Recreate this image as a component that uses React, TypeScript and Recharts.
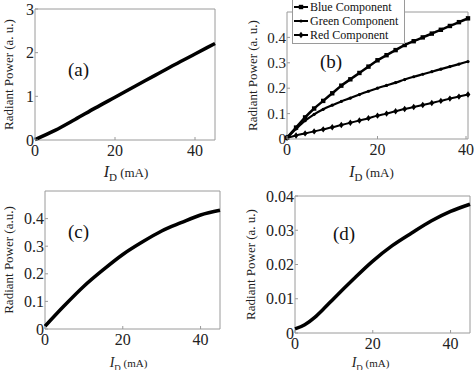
import { LineChart, Line, XAxis, YAxis, ReferenceArea, Label, Legend } from 'recharts';

const SERIF = '"Liberation Serif", "Times New Roman", serif';
const BOX = '#9a9a9a';

// (a) total radiant power
const currentA = [0, 5, 10, 15, 20, 25, 30, 35, 40, 45];
const powerA = [0.01, 0.22, 0.47, 0.73, 0.98, 1.23, 1.48, 1.73, 1.97, 2.21];

// (b) colour components
const currentB = [0, 2, 4, 6, 8, 10, 12, 14, 16, 18, 20, 22, 24, 26, 28, 30, 32, 34, 36, 38, 40];
const blueB = [0.005, 0.045, 0.085, 0.12, 0.15, 0.18, 0.21, 0.235, 0.26, 0.285, 0.31, 0.33, 0.35, 0.37, 0.385, 0.4, 0.415, 0.43, 0.445, 0.46, 0.475];
const greenB = [0.005, 0.04, 0.072, 0.097, 0.117, 0.133, 0.148, 0.161, 0.175, 0.188, 0.2, 0.211, 0.222, 0.234, 0.245, 0.255, 0.265, 0.275, 0.285, 0.295, 0.305];
const redB = [0.005, 0.014, 0.022, 0.03, 0.038, 0.046, 0.055, 0.064, 0.073, 0.082, 0.092, 0.1, 0.109, 0.118, 0.126, 0.134, 0.142, 0.15, 0.159, 0.167, 0.175];
const seriesNamesB = ['Blue Component', 'Green Component', 'Red Component'];

// (c)
const currentC = [0, 5, 10, 15, 20, 25, 30, 35, 40, 45];
const powerC = [0.01, 0.085, 0.155, 0.215, 0.27, 0.315, 0.355, 0.385, 0.413, 0.43];

// (d)
const currentD = [0, 2.5, 5, 7.5, 10, 15, 20, 25, 30, 35, 40, 45];
const powerD = [0.0012, 0.0024, 0.0045, 0.0072, 0.0101, 0.0157, 0.021, 0.0255, 0.0292, 0.0327, 0.0355, 0.0376];

const xTicks = [0, 20, 40];
const yTicksA = [0, 1, 2, 3];
const yTicksBC = [0, 0.1, 0.2, 0.3, 0.4];
const yTicksD = [0, 0.01, 0.02, 0.03, 0.04];

const dataA = currentA.map((x, i) => ({ x, y: powerA[i] }));
const dataB = currentB.map((x, i) => ({ x, blue: blueB[i], green: greenB[i], red: redB[i] }));
const dataC = currentC.map((x, i) => ({ x, y: powerC[i] }));
const dataD = currentD.map((x, i) => ({ x, y: powerD[i] }));

const XTick = ({ x, y, payload, fs }: any) => (
  <g>
    <line x1={x} y1={y} x2={x} y2={y - 3} stroke={BOX} />
    <text x={x} y={y + fs} textAnchor="middle" fontFamily={SERIF} fontSize={fs} fill="#222">
      {payload.value}
    </text>
  </g>
);

const YTick = ({ x, y, payload, fs }: any) => (
  <g>
    <line x1={x} y1={y} x2={x + 3} y2={y} stroke={BOX} />
    <text x={x - 1} y={y} dy="0.35em" textAnchor="end" fontFamily={SERIF} fontSize={fs} fill="#222">
      {payload.value}
    </text>
  </g>
);

const YTitle = ({ viewBox, text, cxOff, fs }: any) => {
  const cx = viewBox.x + cxOff;
  const cy = viewBox.y + viewBox.height / 2;
  return (
    <text
      x={cx}
      y={cy}
      transform={`rotate(-90 ${cx} ${cy})`}
      textAnchor="middle"
      dominantBaseline="central"
      fontFamily={SERIF}
      fontSize={fs}
      fill="#222"
    >
      {text}
    </text>
  );
};

const XTitle = ({ viewBox, dy, dx, big, small }: any) => (
  <text x={viewBox.x + viewBox.width / 2 + dx} y={viewBox.y + dy} textAnchor="middle" fontFamily={SERIF} fill="#222">
    <tspan fontStyle="italic" fontSize={big}>I</tspan>
    <tspan fontSize={small - 2} dy={4}>D</tspan>
    <tspan fontSize={small} dy={-4}> (mA)</tspan>
  </text>
);

const Tag = ({ left, top, text }: { left: number; top: number; text: string }) => (
  <div style={{ position: 'absolute', left, top, fontFamily: SERIF, fontSize: 19, color: '#111' }}>{text}</div>
);

const Square = (p: any) => <rect key={`s-${p.index}`} x={p.cx - 2.2} y={p.cy - 2.2} width={4.4} height={4.4} fill="#000" />;
const Dot = (p: any) => <circle key={`c-${p.index}`} cx={p.cx} cy={p.cy} r={1.6} fill="#000" />;
const Diamond = (p: any) => (
  <path key={`d-${p.index}`} d={`M${p.cx},${p.cy - 3.2}L${p.cx + 2.4},${p.cy}L${p.cx},${p.cy + 3.2}L${p.cx - 2.4},${p.cy}Z`} fill="#000" />
);

const markers = [
  (cx: number, cy: number) => <rect x={cx - 2.2} y={cy - 2.2} width={4.4} height={4.4} fill="#000" />,
  (cx: number, cy: number) => <circle cx={cx} cy={cy} r={1.6} fill="#000" />,
  (cx: number, cy: number) => <path d={`M${cx},${cy - 3.2}L${cx + 2.4},${cy}L${cx},${cy + 3.2}L${cx - 2.4},${cy}Z`} fill="#000" />,
];

const LegendBox = () => (
  <div style={{ background: '#fff', border: `1px solid ${BOX}`, padding: '2px 6px 1px 1px', fontFamily: SERIF, fontSize: 12, color: '#111' }}>
    {seriesNamesB.map((name, i) => (
      <div key={name} style={{ display: 'flex', alignItems: 'center', height: 14 }}>
        <svg width={14} height={10} style={{ marginRight: 2 }}>
          <line x1={0} y1={5} x2={14} y2={5} stroke="#000" strokeWidth={2} />
          {markers[i](7, 5)}
        </svg>
        <span>{name}</span>
      </div>
    ))}
  </div>
);

export default function App() {
  return (
    <div style={{ position: 'absolute', left: 0, top: 0, width: 474, height: 370, background: '#fff', overflow: 'hidden' }}>
      {/* (a) */}
      <div style={{ position: 'absolute', left: 0, top: 0 }}>
        <LineChart width={237} height={185} data={dataA} margin={{ top: 9, right: 22, bottom: 0, left: 0 }}>
          <XAxis dataKey="x" type="number" domain={[0, 45]} ticks={xTicks} height={45} tickSize={0} tickMargin={0} axisLine={false} tick={<XTick fs={16} />}>
            <Label content={<XTitle dy={37} dx={1} big={16} small={13} />} />
          </XAxis>
          <YAxis type="number" domain={[0, 3]} ticks={yTicksA} width={35} tickSize={0} tickMargin={0} axisLine={false} tick={<YTick fs={16} />}>
            <Label content={<YTitle text="Radiant Power (a. u.)" cxOff={8} fs={13} />} />
          </YAxis>
          <ReferenceArea x1={0} x2={45} y1={0} y2={3} fill="none" stroke={BOX} strokeOpacity={1} />
          <Line type="monotone" dataKey="y" stroke="#000" strokeWidth={3.5} dot={false} isAnimationActive={false} />
        </LineChart>
      </div>

      {/* (b) */}
      <div style={{ position: 'absolute', left: 237, top: 0 }}>
        <LineChart width={237} height={185} data={dataB} margin={{ top: 12, right: 6, bottom: 0, left: 0 }}>
          <XAxis dataKey="x" type="number" domain={[0, 40]} ticks={xTicks} height={46} tickSize={0} tickMargin={0} axisLine={false} tick={<XTick fs={16} />}>
            <Label content={<XTitle dy={38} dx={-6} big={16} small={13} />} />
          </XAxis>
          <YAxis type="number" domain={[0, 0.5]} ticks={yTicksBC} width={50} tickSize={0} tickMargin={0} axisLine={false} tick={<YTick fs={15} />}>
            <Label content={<YTitle text="Radiant Power (a. u.)" cxOff={15} fs={13} />} />
          </YAxis>
          <ReferenceArea x1={0} x2={40} y1={0} y2={0.5} fill="none" stroke={BOX} strokeOpacity={1} />
          <Line type="monotone" dataKey="blue" name={seriesNamesB[0]} stroke="#000" strokeWidth={2.5} dot={Square} isAnimationActive={false} />
          <Line type="monotone" dataKey="green" name={seriesNamesB[1]} stroke="#000" strokeWidth={2.2} dot={Dot} isAnimationActive={false} />
          <Line type="monotone" dataKey="red" name={seriesNamesB[2]} stroke="#000" strokeWidth={2} dot={Diamond} isAnimationActive={false} />
          <Legend
            layout="vertical"
            align="center"
            verticalAlign="middle"
            content={<LegendBox />}
            wrapperStyle={{ left: 55, top: -3, width: 'auto' }}
          />
        </LineChart>
      </div>

      {/* (c) */}
      <div style={{ position: 'absolute', left: 0, top: 185 }}>
        <LineChart width={237} height={185} data={dataC} margin={{ top: 6, right: 17, bottom: 0, left: 0 }}>
          <XAxis dataKey="x" type="number" domain={[0, 45]} ticks={xTicks} height={41} tickSize={0} tickMargin={0} axisLine={false} tick={<XTick fs={16} />}>
            <Label content={<XTitle dy={38} dx={-4} big={14} small={11} />} />
          </XAxis>
          <YAxis type="number" domain={[0, 0.5]} ticks={yTicksBC} width={45} tickSize={0} tickMargin={0} axisLine={false} tick={<YTick fs={16} />}>
            <Label content={<YTitle text="Radiant Power (a.u.)" cxOff={8} fs={13} />} />
          </YAxis>
          <ReferenceArea x1={0} x2={45} y1={0} y2={0.5} fill="none" stroke={BOX} strokeOpacity={1} />
          <Line type="monotone" dataKey="y" stroke="#000" strokeWidth={3.5} dot={false} isAnimationActive={false} />
        </LineChart>
      </div>

      {/* (d) */}
      <div style={{ position: 'absolute', left: 237, top: 185 }}>
        <LineChart width={237} height={185} data={dataD} margin={{ top: 11, right: 4, bottom: 0, left: 0 }}>
          <XAxis dataKey="x" type="number" domain={[0, 45]} ticks={xTicks} height={37} tickSize={0} tickMargin={0} axisLine={false} tick={<XTick fs={16} />}>
            <Label content={<XTitle dy={34} dx={-12} big={14} small={11} />} />
          </XAxis>
          <YAxis type="number" domain={[0, 0.04]} ticks={yTicksD} width={58} tickSize={0} tickMargin={0} axisLine={false} tick={<YTick fs={16} />}>
            <Label content={<YTitle text="Radiant Power (a. u.)" cxOff={13} fs={13} />} />
          </YAxis>
          <ReferenceArea x1={0} x2={45} y1={0} y2={0.04} fill="none" stroke={BOX} strokeOpacity={1} />
          <Line type="monotone" dataKey="y" stroke="#000" strokeWidth={3.5} dot={false} isAnimationActive={false} />
        </LineChart>
      </div>

      <Tag left={68} top={59} text="(a)" />
      <Tag left={320} top={51} text="(b)" />
      <Tag left={68} top={221} text="(c)" />
      <Tag left={333} top={223} text="(d)" />
    </div>
  );
}
